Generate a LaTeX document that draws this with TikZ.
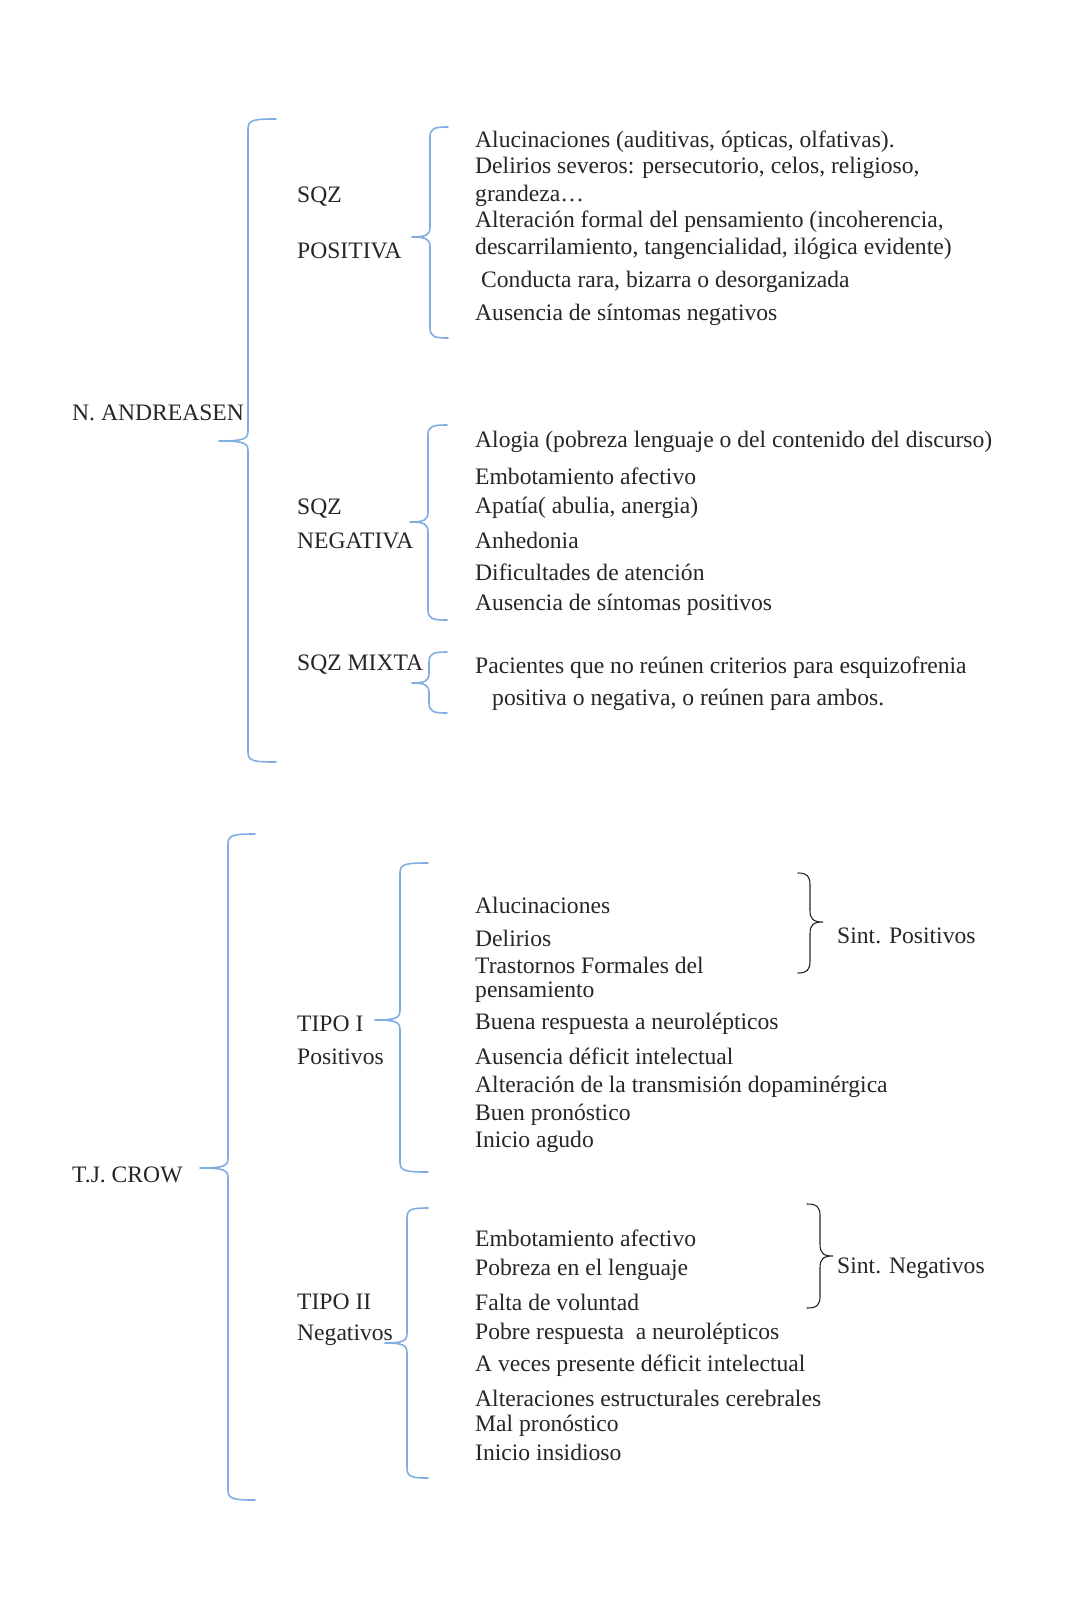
\documentclass[tikz,border=0pt]{standalone}
\usepackage{fontspec}
\setmainfont{Liberation Serif}
\usetikzlibrary{positioning}
\definecolor{bracecol}{RGB}{128,174,226}
\definecolor{inkcol}{RGB}{38,38,38}
\tikzset{%
item/.style={anchor=west,inner sep=0pt,font=\fontsize{23.6}{28}\selectfont,text=inkcol},
group/.style={item},
bluebrace/.style={draw=bracecol,line width=1.6pt,line join=round,line cap=round},
blackbrace/.style={draw=inkcol,line width=1.1pt,line cap=round}
}
% #1 x of the stem, #2 top, #3 bottom, #4 y of the tip, #5 x of the tip, #6 hook
\newcommand{\openbrace}[6]{%
  \draw[bluebrace] (#1+#6,#2) .. controls (#1+5,#2) and (#1,#2+1) .. (#1,#2+10)
    -- (#1,#4-10) .. controls (#1,#4-2) and (#1-4,#4) .. (#5,#4)
    .. controls (#1-4,#4) and (#1,#4+2) .. (#1,#4+10)
    -- (#1,#3-10) .. controls (#1,#3-1) and (#1+5,#3) .. (#1+#6,#3);
}
\newcommand{\closebrace}[6]{%
  \draw[blackbrace] (#1-#6,#2) .. controls (#1-3,#2) and (#1,#2+3) .. (#1,#2+12)
    -- (#1,#4-12) .. controls (#1,#4-3) and (#1+3,#4) .. (#5,#4)
    .. controls (#1+3,#4) and (#1,#4+3) .. (#1,#4+12)
    -- (#1,#3-12) .. controls (#1,#3-3) and (#1-3,#3) .. (#1-#6,#3);
}

\begin{document}
\begin{tikzpicture}[x=1pt,y=-1pt]
  \useasboundingbox[fill=white] (0,0) rectangle (1091,1600);

  % N. Andreasen
  \node[group] (andreasen) at (72,413) {N. ANDREASEN};
  \openbrace{248}{119}{762}{441}{219}{28}

  \node[group] (pos1) at (297,197) {SQZ};
  \node[group] (pos2) at (297,251) {POSITIVA};
  \openbrace{430}{127}{338}{237}{412}{18}
  \node[item] (p1) at (475,142) {Alucinaciones (auditivas, ópticas, olfativas).};
  \node[item] (p2) at (475,168) {Delirios severos: persecutorio, celos, religioso,};
  \node[item] (p3) at (475,196) {grandeza…};
  \node[item] (p4) at (475,222) {Alteración formal del pensamiento (incoherencia,};
  \node[item] (p5) at (475,249) {descarrilamiento, tangencialidad, ilógica evidente)};
  \node[item] (p6) at (481,282) {Conducta rara, bizarra o desorganizada};
  \node[item] (p7) at (475,315) {Ausencia de síntomas negativos};

  \node[group] (neg1) at (297,509) {SQZ};
  \node[group] (neg2) at (297,541) {NEGATIVA};
  \openbrace{428}{425}{620}{522}{410}{19}
  \node[item] (n1) at (475,442) {Alogia (pobreza lenguaje o del contenido del discurso)};
  \node[item] (n2) at (475,476) {Embotamiento afectivo};
  \node[item] (n3) at (475,508) {Apatía( abulia, anergia)};
  \node[item] (n4) at (475,540) {Anhedonia};
  \node[item] (n5) at (475,572) {Dificultades de atención};
  \node[item] (n6) at (475,605) {Ausencia de síntomas positivos};

  \node[group] (mix) at (297,665) {SQZ MIXTA};
  \openbrace{429}{652}{713}{683}{412}{18}
  \node[item] (m1) at (475,668) {Pacientes que no reúnen criterios para esquizofrenia};
  \node[item] (m2) at (492,700) {positiva o negativa, o reúnen para ambos.};

  % T.J. Crow
  \node[group] (crow) at (72,1175) {T.J. CROW};
  \openbrace{228}{834}{1500}{1168}{200}{27}

  \node[group] (t1a) at (297,1024) {TIPO I};
  \node[group] (t1b) at (297,1057) {Positivos};
  \openbrace{400}{863}{1172}{1020}{375}{28}
  \node[item] (a1) at (475,905) {Alucinaciones};
  \node[item] (a2) at (475,938) {Delirios};
  \node[item] (a3) at (475,965) {Trastornos Formales del};
  \node[item] (a4) at (475,992) {pensamiento};
  \node[item] (a5) at (475,1024) {Buena respuesta a neurolépticos};
  \node[item] (a6) at (475,1056) {Ausencia déficit intelectual};
  \node[item] (a7) at (475,1087) {Alteración de la transmisión dopaminérgica};
  \node[item] (a8) at (475,1115) {Buen pronóstico};
  \node[item] (a9) at (475,1142) {Inicio agudo};
  \closebrace{810}{873}{973}{922}{823}{12}
  \node[item] (sintpos) at (837,936) {Sint. Positivos};

  \node[group] (t2a) at (297,1302) {TIPO II};
  \node[group] (t2b) at (297,1335) {Negativos};
  \openbrace{407}{1208}{1478}{1343}{385}{21}
  \node[item] (b1) at (475,1238) {Embotamiento afectivo};
  \node[item] (b2) at (475,1270) {Pobreza en el lenguaje};
  \node[item] (b3) at (475,1302) {Falta de voluntad};
  \node[item] (b4) at (475,1334) {Pobre respuesta \ a neurolépticos};
  \node[item] (b5) at (475,1366) {A veces presente déficit intelectual};
  \node[item] (b6) at (475,1398) {Alteraciones estructurales cerebrales};
  \node[item] (b7) at (475,1426) {Mal pronóstico};
  \node[item] (b8) at (475,1452) {Inicio insidioso};
  \closebrace{820}{1204}{1308}{1256}{833}{13}
  \node[item] (sintneg) at (837,1268) {Sint. Negativos};

\end{tikzpicture}
\end{document}
